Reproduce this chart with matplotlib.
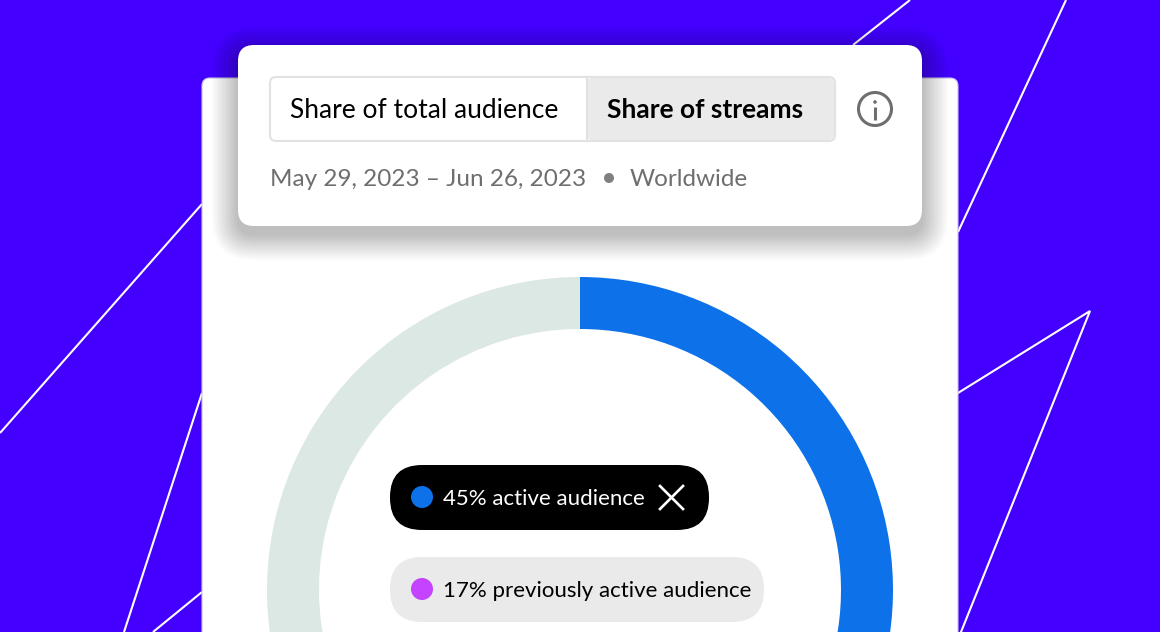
# plot.py - audience share donut card on a purple background
import matplotlib
matplotlib.use("Agg")
import matplotlib.pyplot as plt
from matplotlib.patches import FancyBboxPatch, Circle

W, H = 1160, 632
FONT = "Lato"

# share of the donut, clockwise from the top
segment_names = ["active audience", "previously active audience", "other"]
segment_shares = [45, 17, 38]
segment_colors = ["#0D72EA", "#C343FF", "#DCE8E4"]

toggle_labels = ["Share of total audience", "Share of streams"]
date_range = "May 29, 2023 \u2013 Jun 26, 2023"
region = "Worldwide"

BG = "#4400FF"


def Y(py):
    # picture rows run downwards, the axes run upwards
    return H - py


def rbox(ax, x0, y0, x1, y1, r, z, **kw):
    box = FancyBboxPatch((x0, Y(y1)), x1 - x0, y1 - y0,
                         boxstyle=f"round,pad=0,rounding_size={r}",
                         zorder=z, **kw)
    ax.add_patch(box)
    return box


def line(ax, x0, y0, x1, y1):
    ax.plot([x0, x1], [Y(y0), Y(y1)], color="white", lw=1.5, zorder=1,
            solid_capstyle="butt", solid_joinstyle="miter")


def label(ax, x, y, s, size, color, weight="normal", z=10):
    ax.text(x, Y(y), s, fontsize=size, color=color, fontweight=weight,
            family=FONT, va="baseline", ha="left", zorder=z)


fig = plt.figure(figsize=(W / 100, H / 100), dpi=100, facecolor=BG)
ax = fig.add_axes([0, 0, 1, 1])
ax.set_xlim(0, W)
ax.set_ylim(0, H)
ax.axis("off")

# -- background lines --
line(ax, 0, 433, 202, 204)
line(ax, 853, 45, 910, 0)
line(ax, 1066, 0, 958, 232)
line(ax, 124, 632, 202, 393)
line(ax, 153, 632, 202, 592)
ax.plot([958, 1090, 961], [Y(393), Y(311), Y(632)], color="white", lw=1.5,
        zorder=1, solid_joinstyle="miter")

# -- main panel --
rbox(ax, 202, 78, 958, 700, 8, 2, fc="white", ec="#C9C2E8", lw=0.8)

# -- donut --
wedges, _ = ax.pie(segment_shares, colors=segment_colors, startangle=90,
                   counterclock=False, center=(580, Y(590)), radius=313,
                   frame=True, wedgeprops={"width": 52, "linewidth": 0})
for w in wedges:
    w.set_zorder(3)
ax.set_xlim(0, W)
ax.set_ylim(0, H)
ax.set_aspect("auto")
ax.axis("off")

# -- card shadow, stacked soft boxes --
for i in range(16):
    grow = 26 - i * 26 / 16
    rbox(ax, 238 - grow, 45 + 8 - grow, 922 + grow, 226 + 8 + grow, 16 + grow, 4,
         fc="black", ec="none", alpha=0.014)

# -- card --
rbox(ax, 238, 45, 922, 226, 16, 5, fc="white", ec="none")

# -- toggle --
rbox(ax, 270, 77, 835, 141, 6, 6, fc="white", ec="#E2E2E2", lw=1.5)
rbox(ax, 587, 78, 834, 140, 5, 6, fc="#EAEAEA", ec="none")
ax.plot([587, 587], [Y(78), Y(140)], color="#E2E2E2", lw=1.5, zorder=7)
label(ax, 290, 118, toggle_labels[0], 19, "black")
label(ax, 607, 118, toggle_labels[1], 19, "black", weight="bold")

# -- info icon --
ax.add_patch(Circle((875, Y(109)), 16.5, fc="none", ec="#6E6E6E", lw=2.2, zorder=7))
ax.add_patch(Circle((875, Y(102)), 1.8, fc="#6E6E6E", ec="none", zorder=7))
ax.plot([875, 875], [Y(107), Y(120)], color="#6E6E6E", lw=2.2, zorder=7,
        solid_capstyle="butt")

# -- date line --
label(ax, 270, 186, date_range, 17.5, "#6E6E6E")
ax.add_patch(Circle((609, Y(178)), 5, fc="#808080", ec="none", zorder=7))
label(ax, 630, 186, region, 17.5, "#6E6E6E")

# -- pills --
rbox(ax, 390, 465, 709, 530, 32, 8, fc="black", ec="none")
ax.add_patch(Circle((422, Y(497)), 11, fc=segment_colors[0], ec="none", zorder=9))
label(ax, 443, 505, f"{segment_shares[0]}% {segment_names[0]}", 16, "white")
for xs, ys in (([660, 683], [486, 509]), ([660, 683], [509, 486])):
    ax.plot(xs, [Y(v) for v in ys], color="white", lw=1.9, zorder=9)

rbox(ax, 390, 557, 764, 622, 32, 8, fc="#EAEAEA", ec="none")
ax.add_patch(Circle((422, Y(589)), 11, fc=segment_colors[1], ec="none", zorder=9))
label(ax, 443, 597, f"{segment_shares[1]}% {segment_names[1]}", 16, "black")

fig.savefig("out.png", dpi=100, facecolor=BG)
